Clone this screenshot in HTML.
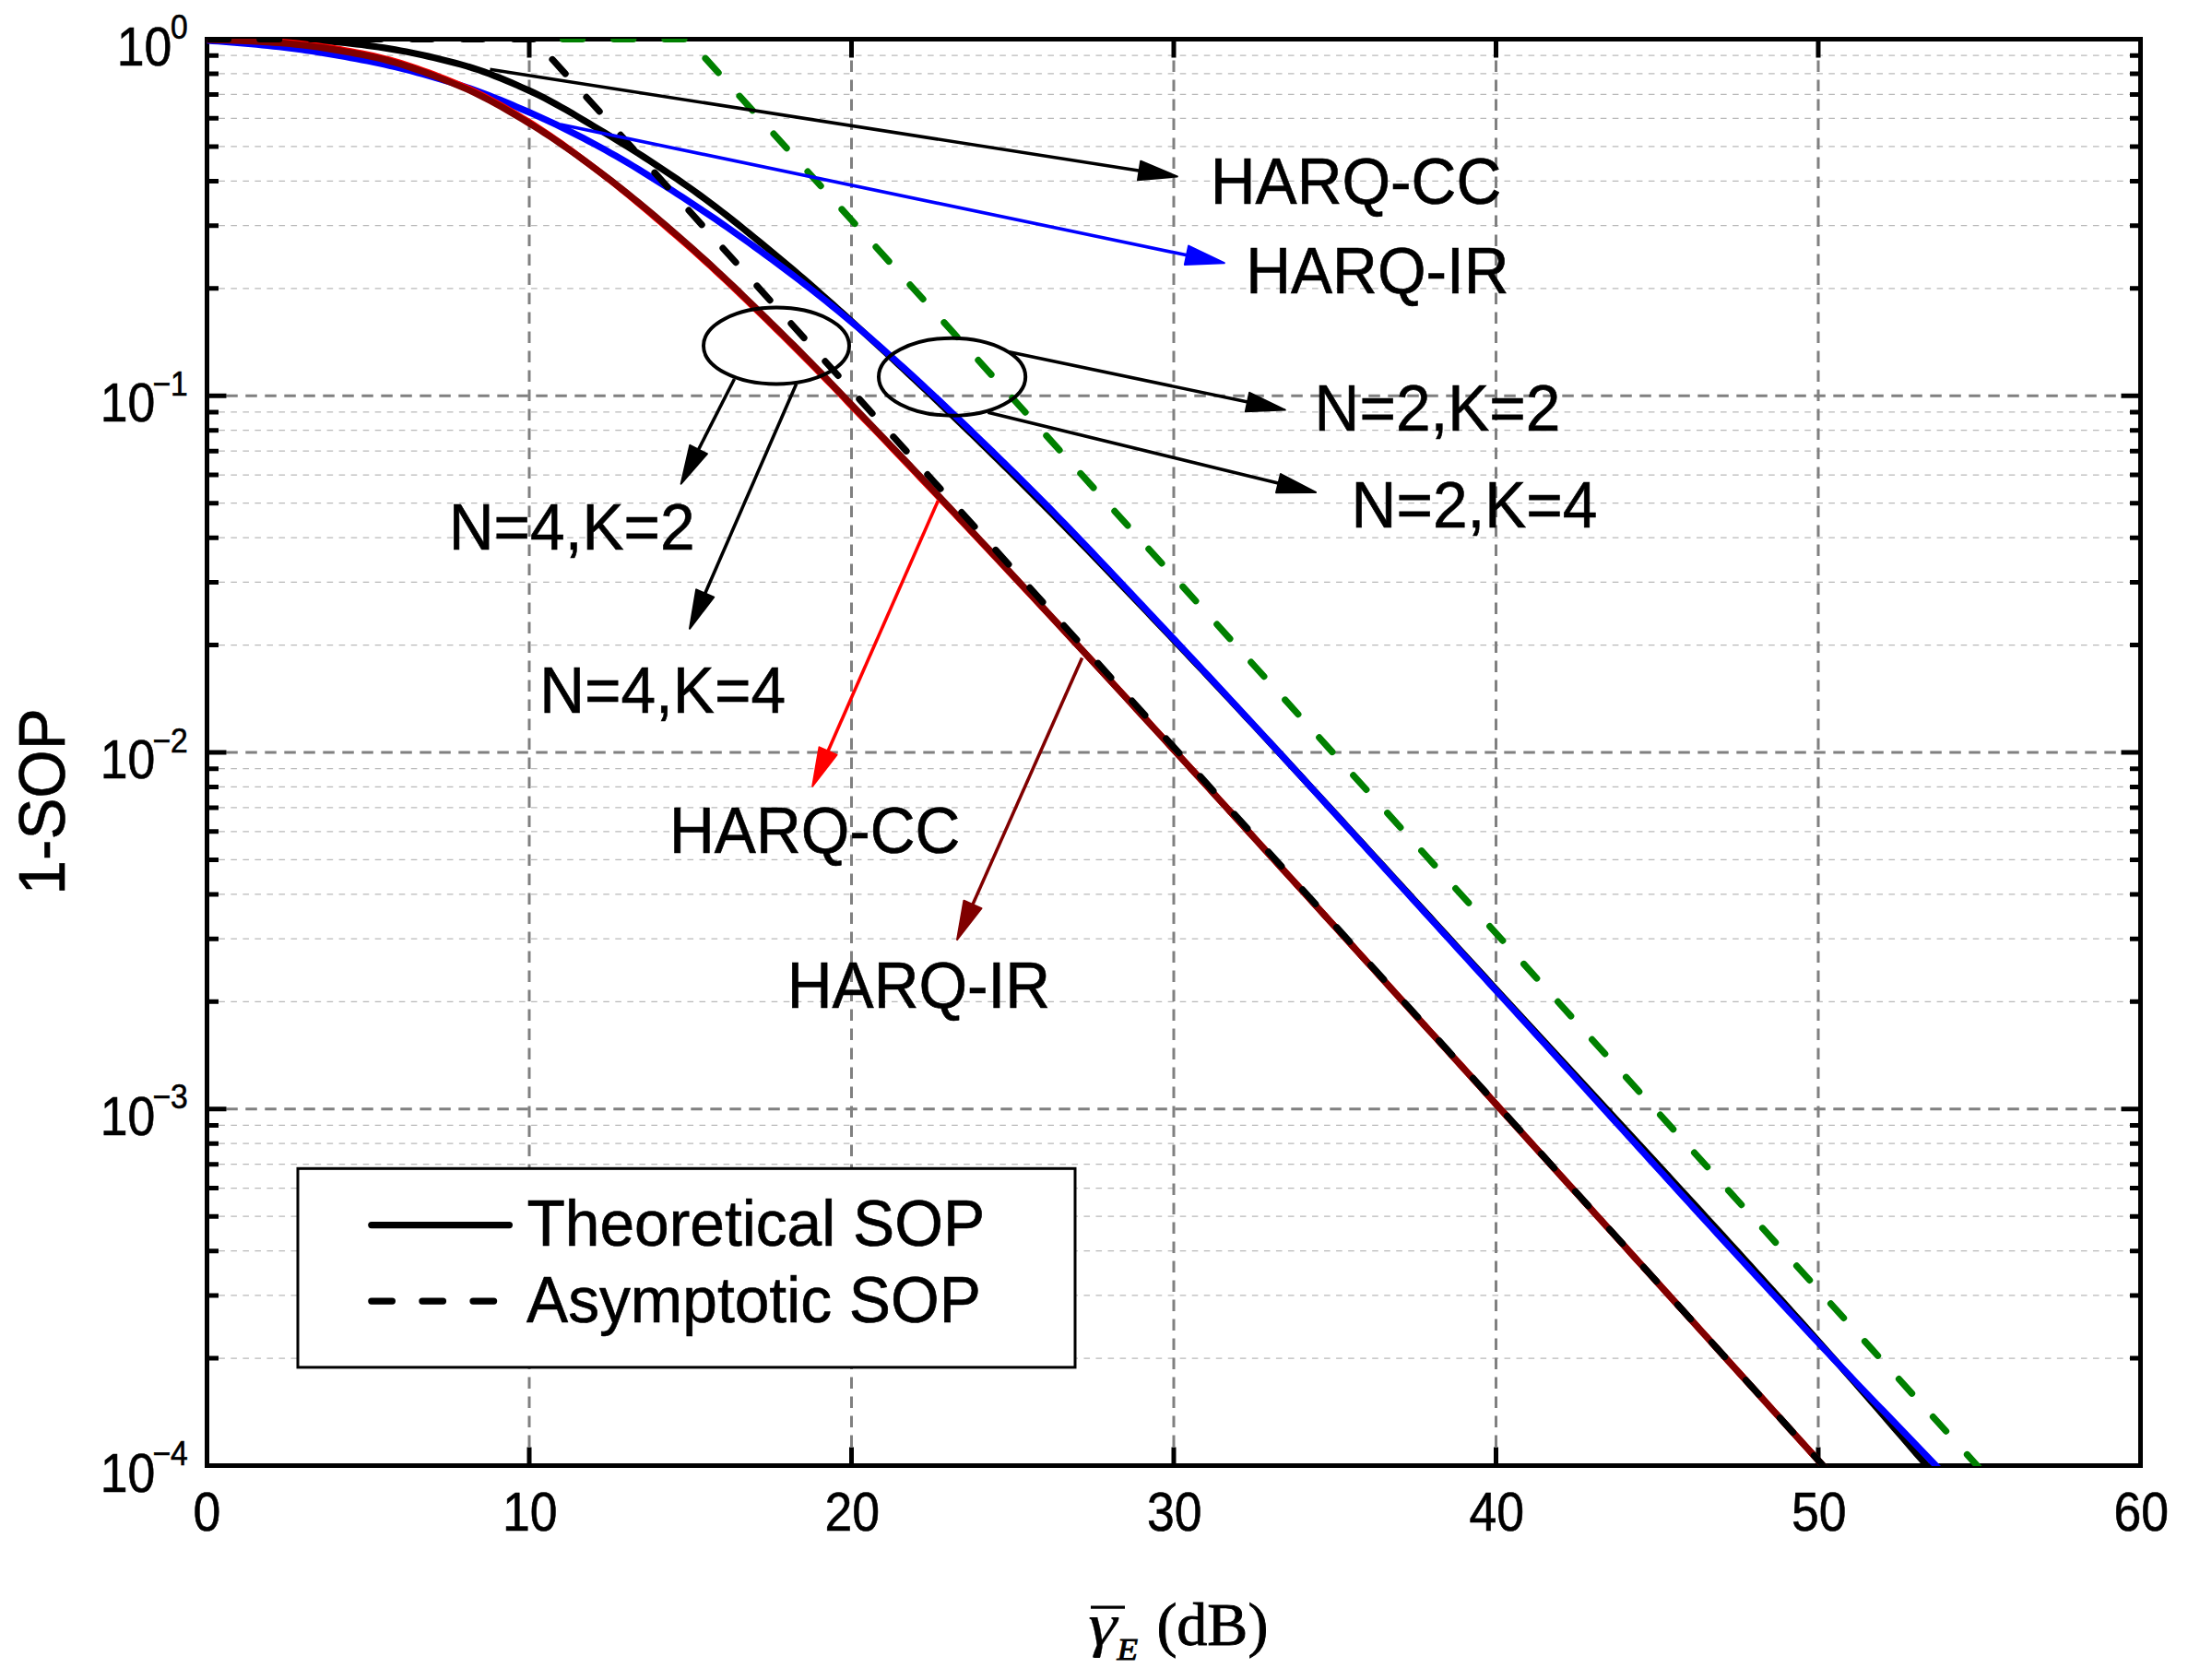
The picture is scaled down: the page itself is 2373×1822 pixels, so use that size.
<!DOCTYPE html>
<html lang="en"><head><meta charset="utf-8"><title>1-SOP versus average SNR</title>
<style>html,body{margin:0;padding:0;background:#fff}svg{display:block}text{font-family:"Liberation Sans",Arial,sans-serif;fill:#000}.ser{font-family:"Liberation Serif","Times New Roman",serif}</style></head><body>
<svg width="2373" height="1822" viewBox="0 0 2373 1822">
<rect width="2373" height="1822" fill="#fff"/>
<defs><clipPath id="pc"><rect x="224.5" y="42" width="2097" height="1547.9"/></clipPath></defs>
<g fill="none" stroke="#b9b9b9" stroke-width="1.25" stroke-dasharray="6.6 6.43">
<path d="M237.3,312.83 H2310"/>
<path d="M237.3,244.72 H2310"/>
<path d="M237.3,196.4 H2310"/>
<path d="M237.3,158.92 H2310"/>
<path d="M237.3,128.3 H2310"/>
<path d="M237.3,102.41 H2310"/>
<path d="M237.3,79.98 H2310"/>
<path d="M237.3,60.2 H2310"/>
<path d="M237.3,699.58 H2310"/>
<path d="M237.3,631.47 H2310"/>
<path d="M237.3,583.15 H2310"/>
<path d="M237.3,545.67 H2310"/>
<path d="M237.3,515.05 H2310"/>
<path d="M237.3,489.16 H2310"/>
<path d="M237.3,466.73 H2310"/>
<path d="M237.3,446.95 H2310"/>
<path d="M237.3,1086.33 H2310"/>
<path d="M237.3,1018.22 H2310"/>
<path d="M237.3,969.9 H2310"/>
<path d="M237.3,932.42 H2310"/>
<path d="M237.3,901.8 H2310"/>
<path d="M237.3,875.91 H2310"/>
<path d="M237.3,853.48 H2310"/>
<path d="M237.3,833.7 H2310"/>
<path d="M237.3,1473.08 H2310"/>
<path d="M237.3,1404.97 H2310"/>
<path d="M237.3,1356.65 H2310"/>
<path d="M237.3,1319.17 H2310"/>
<path d="M237.3,1288.55 H2310"/>
<path d="M237.3,1262.66 H2310"/>
<path d="M237.3,1240.23 H2310"/>
<path d="M237.3,1220.45 H2310"/>
</g>
<g fill="none" stroke="#808080" stroke-width="3" stroke-dasharray="12.5 8.5">
<path d="M574,65.4 V1569.5"/>
<path d="M923.5,65.4 V1569.5"/>
<path d="M1273,65.4 V1569.5"/>
<path d="M1622.5,65.4 V1569.5"/>
<path d="M1972,65.4 V1569.5"/>
<path d="M245.3,429.25 H2301.5"/>
<path d="M245.3,816 H2301.5"/>
<path d="M245.3,1202.75 H2301.5"/>
</g>
<g fill="none" stroke="#000" stroke-width="5">
<rect x="224.5" y="42.5" width="2097" height="1547"/>
<path d="M574,42.5 v20 M574,1589.5 v-20 M923.5,42.5 v20 M923.5,1589.5 v-20 M1273,42.5 v20 M1273,1589.5 v-20 M1622.5,42.5 v20 M1622.5,1589.5 v-20 M1972,42.5 v20 M1972,1589.5 v-20 M224.5,429.25 h21 M2321.5,429.25 h-21 M224.5,816 h21 M2321.5,816 h-21 M224.5,1202.75 h21 M2321.5,1202.75 h-21 M224.5,312.83 h12.5 M2321.5,312.83 h-11.5 M224.5,244.72 h12.5 M2321.5,244.72 h-11.5 M224.5,196.4 h12.5 M2321.5,196.4 h-11.5 M224.5,158.92 h12.5 M2321.5,158.92 h-11.5 M224.5,128.3 h12.5 M2321.5,128.3 h-11.5 M224.5,102.41 h12.5 M2321.5,102.41 h-11.5 M224.5,79.98 h12.5 M2321.5,79.98 h-11.5 M224.5,60.2 h12.5 M2321.5,60.2 h-11.5 M224.5,699.58 h12.5 M2321.5,699.58 h-11.5 M224.5,631.47 h12.5 M2321.5,631.47 h-11.5 M224.5,583.15 h12.5 M2321.5,583.15 h-11.5 M224.5,545.67 h12.5 M2321.5,545.67 h-11.5 M224.5,515.05 h12.5 M2321.5,515.05 h-11.5 M224.5,489.16 h12.5 M2321.5,489.16 h-11.5 M224.5,466.73 h12.5 M2321.5,466.73 h-11.5 M224.5,446.95 h12.5 M2321.5,446.95 h-11.5 M224.5,1086.33 h12.5 M2321.5,1086.33 h-11.5 M224.5,1018.22 h12.5 M2321.5,1018.22 h-11.5 M224.5,969.9 h12.5 M2321.5,969.9 h-11.5 M224.5,932.42 h12.5 M2321.5,932.42 h-11.5 M224.5,901.8 h12.5 M2321.5,901.8 h-11.5 M224.5,875.91 h12.5 M2321.5,875.91 h-11.5 M224.5,853.48 h12.5 M2321.5,853.48 h-11.5 M224.5,833.7 h12.5 M2321.5,833.7 h-11.5 M224.5,1473.08 h12.5 M2321.5,1473.08 h-11.5 M224.5,1404.97 h12.5 M2321.5,1404.97 h-11.5 M224.5,1356.65 h12.5 M2321.5,1356.65 h-11.5 M224.5,1319.17 h12.5 M2321.5,1319.17 h-11.5 M224.5,1288.55 h12.5 M2321.5,1288.55 h-11.5 M224.5,1262.66 h12.5 M2321.5,1262.66 h-11.5 M224.5,1240.23 h12.5 M2321.5,1240.23 h-11.5 M224.5,1220.45 h12.5 M2321.5,1220.45 h-11.5"/>
</g>
<g clip-path="url(#pc)" fill="none" stroke-width="7.2" stroke-linejoin="round">
<path stroke="#000" d="M224.5,42.5 L230.5,42.5 L236.5,42.51 L242.5,42.51 L248.5,42.52 L254.5,42.53 L260.5,42.55 L266.5,42.56 L272.5,42.58 L278.5,42.6 L284.5,42.63 L290.5,42.65 L296.5,42.68 L302.5,42.72 L308.5,42.81 L314.5,42.95 L320.5,43.13 L326.5,43.36 L332.5,43.62 L338.5,43.91 L344.5,44.21 L350.5,44.53 L356.5,44.9 L362.5,45.35 L368.5,45.88 L374.5,46.47 L380.5,47.12 L386.5,47.81 L392.5,48.55 L398.5,49.31 L404.5,50.1 L410.5,50.95 L416.5,51.86 L422.5,52.83 L428.5,53.86 L434.5,54.94 L440.5,56.07 L446.5,57.26 L452.5,58.5 L458.5,59.79 L464.5,61.13 L470.5,62.52 L476.5,63.95 L482.5,65.43 L488.5,66.96 L494.5,68.53 L500.5,70.14 L506.5,71.85 L512.5,73.7 L518.5,75.67 L524.5,77.77 L530.5,79.98 L536.5,82.28 L542.5,84.67 L548.5,87.15 L554.5,89.69 L560.5,92.29 L566.5,94.95 L572.5,97.64 L578.5,100.39 L584.5,103.29 L590.5,106.32 L596.5,109.46 L602.5,112.72 L608.5,116.06 L614.5,119.48 L620.5,122.96 L626.5,126.49 L632.5,130.05 L638.5,133.63 L644.5,137.22 L650.5,140.8 L656.5,144.39 L662.5,148 L668.5,151.65 L674.5,155.33 L680.5,159.04 L686.5,162.79 L692.5,166.57 L698.5,170.4 L704.5,174.26 L710.5,178.17 L716.5,182.13 L722.5,186.13 L728.5,190.17 L734.5,194.27 L740.5,198.42 L746.5,202.62 L752.5,206.88 L758.5,211.22 L764.5,215.63 L770.5,220.11 L776.5,224.66 L782.5,229.27 L788.5,233.93 L794.5,238.65 L800.5,243.42 L806.5,248.23 L812.5,253.08 L818.5,257.97 L824.5,262.88 L830.5,267.82 L836.5,272.78 L842.5,277.76 L848.5,282.75 L854.5,287.76 L860.5,292.83 L866.5,297.94 L872.5,303.1 L878.5,308.31 L884.5,313.55 L890.5,318.83 L896.5,324.15 L902.5,329.5 L908.5,334.87 L914.5,340.27 L920.5,345.69 L926.5,351.13 L932.5,356.59 L938.5,362.06 L944.5,367.55 L950.5,373.07 L956.5,378.6 L962.5,384.15 L968.5,389.71 L974.5,395.3 L980.5,400.9 L986.5,406.52 L992.5,412.16 L998.5,417.81 L1004.5,423.48 L1010.5,429.17 L1016.5,434.88 L1022.5,440.6 L1028.5,446.34 L1034.5,452.09 L1040.5,457.86 L1046.5,463.65 L1052.5,469.45 L1058.5,475.27 L1064.5,481.1 L1070.5,486.95 L1076.5,492.82 L1082.5,498.69 L1088.5,504.59 L1094.5,510.5 L1100.5,516.42 L1106.5,522.37 L1112.5,528.34 L1118.5,534.33 L1124.5,540.35 L1130.5,546.38 L1136.5,552.44 L1142.5,558.52 L1148.5,564.61 L1154.5,570.73 L1160.5,576.86 L1166.5,583.01 L1172.5,589.17 L1178.5,595.35 L1184.5,601.55 L1190.5,607.76 L1196.5,613.98 L1202.5,620.21 L1208.5,626.45 L1214.5,632.71 L1220.5,638.97 L1226.5,645.24 L1232.5,651.53 L1238.5,657.81 L1244.5,664.11 L1250.5,670.41 L1256.5,676.72 L1262.5,683.03 L1268.5,689.34 L1274.5,695.66 L1280.5,701.98 L1286.5,708.32 L1292.5,714.67 L1298.5,721.03 L1304.5,727.4 L1310.5,733.78 L1316.5,740.17 L1322.5,746.57 L1328.5,752.98 L1334.5,759.4 L1340.5,765.83 L1346.5,772.26 L1352.5,778.71 L1358.5,785.16 L1364.5,791.62 L1370.5,798.09 L1376.5,804.57 L1382.5,811.05 L1388.5,817.54 L1394.5,824.04 L1400.5,830.54 L1406.5,837.05 L1412.5,843.56 L1418.5,850.08 L1424.5,856.61 L1430.5,863.14 L1436.5,869.67 L1442.5,876.21 L1448.5,882.75 L1454.5,889.29 L1460.5,895.84 L1466.5,902.39 L1472.5,908.95 L1478.5,915.51 L1484.5,922.06 L1490.5,928.63 L1496.5,935.19 L1502.5,941.75 L1508.5,948.32 L1514.5,954.88 L1520.5,961.45 L1526.5,968.01 L1532.5,974.58 L1538.5,981.15 L1544.5,987.71 L1550.5,994.27 L1556.5,1000.84 L1562.5,1007.4 L1568.5,1013.96 L1574.5,1020.52 L1580.5,1027.07 L1586.5,1033.62 L1592.5,1040.17 L1598.5,1046.72 L1604.5,1053.26 L1610.5,1059.8 L1616.5,1066.33 L1622.5,1072.86 L1628.5,1079.39 L1634.5,1085.91 L1640.5,1092.43 L1646.5,1098.95 L1652.5,1105.46 L1658.5,1111.97 L1664.5,1118.48 L1670.5,1124.98 L1676.5,1131.49 L1682.5,1137.99 L1688.5,1144.49 L1694.5,1150.99 L1700.5,1157.49 L1706.5,1163.98 L1712.5,1170.48 L1718.5,1176.98 L1724.5,1183.47 L1730.5,1189.97 L1736.5,1196.47 L1742.5,1202.96 L1748.5,1209.46 L1754.5,1215.96 L1760.5,1222.46 L1766.5,1228.97 L1772.5,1235.47 L1778.5,1241.98 L1784.5,1248.49 L1790.5,1255 L1796.5,1261.52 L1802.5,1268.04 L1808.5,1274.56 L1814.5,1281.09 L1820.5,1287.62 L1826.5,1294.15 L1832.5,1300.69 L1838.5,1307.23 L1844.5,1313.78 L1850.5,1320.33 L1856.5,1326.89 L1862.5,1333.46 L1868.5,1340.03 L1874.5,1346.6 L1880.5,1353.19 L1886.5,1359.78 L1892.5,1366.37 L1898.5,1372.98 L1904.5,1379.59 L1910.5,1386.21 L1916.5,1392.84 L1922.5,1399.47 L1928.5,1406.11 L1934.5,1412.77 L1940.5,1419.43 L1946.5,1426.1 L1952.5,1432.78 L1958.5,1439.47 L1964.5,1446.16 L1970.5,1452.87 L1976.5,1459.6 L1982.5,1466.35 L1988.5,1473.13 L1994.5,1479.94 L2000.5,1486.77 L2006.5,1493.61 L2012.5,1500.46 L2018.5,1507.33 L2024.5,1514.2 L2030.5,1521.07 L2036.5,1527.97 L2042.5,1534.89 L2048.5,1541.83 L2054.5,1548.78 L2060.5,1555.74 L2066.5,1562.69 L2072.5,1569.64 L2078.5,1576.55 L2084.5,1583.44 L2090.5,1590.3 L2096.5,1597.12 L2102.5,1603.91 L2108.5,1610.69 L2114.5,1617.44 L2120.5,1624.18 L2126.5,1630.89"/>
<path stroke="#0000ff" d="M224.5,44 L230.5,44.35 L236.5,44.73 L242.5,45.15 L248.5,45.59 L254.5,46.07 L260.5,46.58 L266.5,47.11 L272.5,47.67 L278.5,48.25 L284.5,48.85 L290.5,49.48 L296.5,50.12 L302.5,50.78 L308.5,51.48 L314.5,52.21 L320.5,52.99 L326.5,53.8 L332.5,54.65 L338.5,55.54 L344.5,56.45 L350.5,57.41 L356.5,58.39 L362.5,59.4 L368.5,60.44 L374.5,61.51 L380.5,62.61 L386.5,63.73 L392.5,64.88 L398.5,66.05 L404.5,67.26 L410.5,68.51 L416.5,69.82 L422.5,71.18 L428.5,72.59 L434.5,74.05 L440.5,75.56 L446.5,77.11 L452.5,78.71 L458.5,80.35 L464.5,82.03 L470.5,83.75 L476.5,85.51 L482.5,87.31 L488.5,89.14 L494.5,91.01 L500.5,92.91 L506.5,94.88 L512.5,96.95 L518.5,99.1 L524.5,101.33 L530.5,103.63 L536.5,106 L542.5,108.43 L548.5,110.91 L554.5,113.42 L560.5,115.98 L566.5,118.57 L572.5,121.17 L578.5,123.8 L584.5,126.48 L590.5,129.22 L596.5,132.01 L602.5,134.85 L608.5,137.74 L614.5,140.69 L620.5,143.68 L626.5,146.72 L632.5,149.81 L638.5,152.95 L644.5,156.14 L650.5,159.37 L656.5,162.66 L662.5,166.02 L668.5,169.44 L674.5,172.92 L680.5,176.45 L686.5,180.03 L692.5,183.67 L698.5,187.35 L704.5,191.07 L710.5,194.83 L716.5,198.62 L722.5,202.45 L728.5,206.3 L734.5,210.18 L740.5,214.09 L746.5,218.01 L752.5,221.94 L758.5,225.92 L764.5,229.94 L770.5,233.99 L776.5,238.09 L782.5,242.22 L788.5,246.39 L794.5,250.6 L800.5,254.84 L806.5,259.11 L812.5,263.42 L818.5,267.76 L824.5,272.13 L830.5,276.52 L836.5,280.95 L842.5,285.4 L848.5,289.88 L854.5,294.38 L860.5,298.92 L866.5,303.49 L872.5,308.11 L878.5,312.76 L884.5,317.46 L890.5,322.2 L896.5,326.99 L902.5,331.83 L908.5,336.73 L914.5,341.68 L920.5,346.69 L926.5,351.76 L932.5,356.87 L938.5,362.03 L944.5,367.23 L950.5,372.47 L956.5,377.75 L962.5,383.07 L968.5,388.43 L974.5,393.82 L980.5,399.25 L986.5,404.71 L992.5,410.21 L998.5,415.73 L1004.5,421.29 L1010.5,426.88 L1016.5,432.49 L1022.5,438.13 L1028.5,443.8 L1034.5,449.49 L1040.5,455.2 L1046.5,460.94 L1052.5,466.69 L1058.5,472.47 L1064.5,478.26 L1070.5,484.08 L1076.5,489.9 L1082.5,495.75 L1088.5,501.6 L1094.5,507.47 L1100.5,513.35 L1106.5,519.27 L1112.5,525.23 L1118.5,531.22 L1124.5,537.25 L1130.5,543.31 L1136.5,549.4 L1142.5,555.52 L1148.5,561.67 L1154.5,567.85 L1160.5,574.06 L1166.5,580.28 L1172.5,586.53 L1178.5,592.8 L1184.5,599.09 L1190.5,605.39 L1196.5,611.72 L1202.5,618.05 L1208.5,624.4 L1214.5,630.76 L1220.5,637.12 L1226.5,643.5 L1232.5,649.88 L1238.5,656.26 L1244.5,662.65 L1250.5,669.04 L1256.5,675.43 L1262.5,681.81 L1268.5,688.19 L1274.5,694.57 L1280.5,700.95 L1286.5,707.34 L1292.5,713.75 L1298.5,720.16 L1304.5,726.59 L1310.5,733.02 L1316.5,739.47 L1322.5,745.92 L1328.5,752.39 L1334.5,758.86 L1340.5,765.34 L1346.5,771.83 L1352.5,778.33 L1358.5,784.83 L1364.5,791.35 L1370.5,797.87 L1376.5,804.39 L1382.5,810.93 L1388.5,817.47 L1394.5,824.01 L1400.5,830.57 L1406.5,837.12 L1412.5,843.68 L1418.5,850.25 L1424.5,856.82 L1430.5,863.4 L1436.5,869.98 L1442.5,876.56 L1448.5,883.15 L1454.5,889.74 L1460.5,896.33 L1466.5,902.92 L1472.5,909.52 L1478.5,916.12 L1484.5,922.72 L1490.5,929.32 L1496.5,935.92 L1502.5,942.52 L1508.5,949.13 L1514.5,955.73 L1520.5,962.33 L1526.5,968.93 L1532.5,975.54 L1538.5,982.14 L1544.5,988.74 L1550.5,995.33 L1556.5,1001.93 L1562.5,1008.52 L1568.5,1015.11 L1574.5,1021.7 L1580.5,1028.28 L1586.5,1034.87 L1592.5,1041.44 L1598.5,1048.02 L1604.5,1054.59 L1610.5,1061.15 L1616.5,1067.71 L1622.5,1074.26 L1628.5,1080.82 L1634.5,1087.38 L1640.5,1093.94 L1646.5,1100.51 L1652.5,1107.09 L1658.5,1113.67 L1664.5,1120.25 L1670.5,1126.84 L1676.5,1133.43 L1682.5,1140.03 L1688.5,1146.63 L1694.5,1153.23 L1700.5,1159.83 L1706.5,1166.44 L1712.5,1173.05 L1718.5,1179.65 L1724.5,1186.27 L1730.5,1192.88 L1736.5,1199.49 L1742.5,1206.1 L1748.5,1212.71 L1754.5,1219.33 L1760.5,1225.94 L1766.5,1232.55 L1772.5,1239.16 L1778.5,1245.77 L1784.5,1252.37 L1790.5,1258.98 L1796.5,1265.58 L1802.5,1272.18 L1808.5,1278.77 L1814.5,1285.37 L1820.5,1291.96 L1826.5,1298.54 L1832.5,1305.12 L1838.5,1311.7 L1844.5,1318.27 L1850.5,1324.83 L1856.5,1331.39 L1862.5,1337.95 L1868.5,1344.5 L1874.5,1351.04 L1880.5,1357.57 L1886.5,1364.1 L1892.5,1370.62 L1898.5,1377.13 L1904.5,1383.64 L1910.5,1390.14 L1916.5,1396.62 L1922.5,1403.1 L1928.5,1409.57 L1934.5,1416.03 L1940.5,1422.48 L1946.5,1428.92 L1952.5,1435.35 L1958.5,1441.77 L1964.5,1448.18 L1970.5,1454.58 L1976.5,1460.96 L1982.5,1467.32 L1988.5,1473.66 L1994.5,1479.99 L2000.5,1486.3 L2006.5,1492.59 L2012.5,1498.87 L2018.5,1505.14 L2024.5,1511.39 L2030.5,1517.64 L2036.5,1523.89 L2042.5,1530.12 L2048.5,1536.35 L2054.5,1542.59 L2060.5,1548.81 L2066.5,1555.05 L2072.5,1561.28 L2078.5,1567.51 L2084.5,1573.76 L2090.5,1580.01 L2096.5,1586.26 L2102.5,1592.53 L2108.5,1598.8 L2114.5,1605.06 L2120.5,1611.33 L2126.5,1617.6 L2132.5,1623.87 L2138.5,1630.13"/>
<path stroke="#ff0000" d="M224.5,42 L230.5,42.03 L236.5,42.11 L242.5,42.25 L248.5,42.42 L254.5,42.64 L260.5,42.9 L266.5,43.19 L272.5,43.5 L278.5,43.83 L284.5,44.19 L290.5,44.55 L296.5,44.93 L302.5,45.31 L308.5,45.76 L314.5,46.28 L320.5,46.87 L326.5,47.52 L332.5,48.24 L338.5,49.01 L344.5,49.84 L350.5,50.72 L356.5,51.65 L362.5,52.63 L368.5,53.65 L374.5,54.72 L380.5,55.81 L386.5,56.95 L392.5,58.11 L398.5,59.3 L404.5,60.54 L410.5,61.91 L416.5,63.39 L422.5,64.98 L428.5,66.67 L434.5,68.47 L440.5,70.36 L446.5,72.34 L452.5,74.39 L458.5,76.52 L464.5,78.72 L470.5,80.98 L476.5,83.3 L482.5,85.67 L488.5,88.08 L494.5,90.53 L500.5,93.01 L506.5,95.6 L512.5,98.35 L518.5,101.24 L524.5,104.26 L530.5,107.41 L536.5,110.66 L542.5,114 L548.5,117.42 L554.5,120.91 L560.5,124.46 L566.5,128.04 L572.5,131.65 L578.5,135.38 L584.5,139.23 L590.5,143.18 L596.5,147.23 L602.5,151.35 L608.5,155.56 L614.5,159.84 L620.5,164.18 L626.5,168.59 L632.5,173.05 L638.5,177.56 L644.5,182.1 L650.5,186.69 L656.5,191.32 L662.5,196.03 L668.5,200.79 L674.5,205.62 L680.5,210.5 L686.5,215.44 L692.5,220.44 L698.5,225.49 L704.5,230.58 L710.5,235.73 L716.5,240.87 L722.5,245.99 L728.5,251.16 L734.5,256.36 L740.5,261.59 L746.5,266.86 L752.5,272.16 L758.5,277.53 L764.5,282.96 L770.5,288.45 L776.5,293.99 L782.5,299.59 L788.5,305.24 L794.5,310.93 L800.5,316.66 L806.5,322.43 L812.5,328.23 L818.5,334.06 L824.5,339.91 L830.5,345.78 L836.5,351.67 L842.5,357.57 L848.5,363.47 L854.5,369.39 L860.5,375.36 L866.5,381.36 L872.5,387.41 L878.5,393.49 L884.5,399.6 L890.5,405.74 L896.5,411.92 L902.5,418.11 L908.5,424.33 L914.5,430.58 L920.5,436.93 L926.5,443.23 L932.5,449.46 L938.5,455.66 L944.5,461.86 L950.5,468.08 L956.5,474.34 L962.5,480.61 L968.5,486.9 L974.5,493.19 L980.5,499.49 L986.5,505.8 L992.5,512.12 L998.5,518.42 L1004.5,524.73 L1010.5,531.04 L1016.5,537.36 L1022.5,543.69 L1028.5,550.02 L1034.5,556.37 L1040.5,562.72 L1046.5,569.08 L1052.5,575.44 L1058.5,581.81 L1064.5,588.19 L1070.5,594.57 L1076.5,600.96 L1082.5,607.36 L1088.5,613.76 L1094.5,620.17 L1100.5,626.58 L1106.5,633 L1112.5,639.43 L1118.5,645.85 L1124.5,652.29 L1130.5,658.73 L1136.5,665.17 L1142.5,671.62 L1148.5,678.07 L1154.5,684.53 L1160.5,690.99 L1166.5,697.45 L1172.5,703.92 L1178.5,710.39 L1184.5,716.87 L1190.5,723.35 L1196.5,729.83 L1202.5,736.32 L1208.5,742.84 L1214.5,749.37 L1220.5,755.9 L1226.5,762.43 L1232.5,768.97 L1238.5,775.51 L1244.5,782.05 L1250.5,788.59 L1256.5,795.14 L1262.5,801.69 L1268.5,808.24 L1274.5,814.8 L1280.5,821.36 L1286.5,827.92 L1292.5,834.48 L1298.5,841.04 L1304.5,847.61 L1310.5,854.18 L1316.5,860.75 L1322.5,867.32 L1328.5,873.89 L1334.5,880.47 L1340.5,887.05 L1346.5,893.63 L1352.5,900.21 L1358.5,906.79 L1364.5,913.37 L1370.5,919.96 L1376.5,926.55 L1382.5,933.14 L1388.5,939.73 L1394.5,946.32 L1400.5,952.91 L1406.5,959.5 L1412.5,966.1 L1418.5,972.7 L1424.5,979.3 L1430.5,985.89 L1436.5,992.49 L1442.5,999.1 L1448.5,1005.7 L1454.5,1012.3 L1460.5,1018.91 L1466.5,1025.51 L1472.5,1032.12 L1478.5,1038.72 L1484.5,1045.33 L1490.5,1051.94 L1496.5,1058.55 L1502.5,1065.16 L1508.5,1071.77 L1514.5,1078.39 L1520.5,1085 L1526.5,1091.61 L1532.5,1098.23 L1538.5,1104.84 L1544.5,1111.46 L1550.5,1118.07 L1556.5,1124.69 L1562.5,1131.31 L1568.5,1137.93 L1574.5,1144.55 L1580.5,1151.17 L1586.5,1157.79 L1592.5,1164.41 L1598.5,1171.03 L1604.5,1177.65 L1610.5,1184.27 L1616.5,1190.9 L1622.5,1197.52 L1628.5,1204.14 L1634.5,1210.77 L1640.5,1217.39 L1646.5,1224.02 L1652.5,1230.64 L1658.5,1237.27 L1664.5,1243.89 L1670.5,1250.52 L1676.5,1257.15 L1682.5,1263.77 L1688.5,1270.4 L1694.5,1277.03 L1700.5,1283.66 L1706.5,1290.28 L1712.5,1296.91 L1718.5,1303.54 L1724.5,1310.17 L1730.5,1316.8 L1736.5,1323.43 L1742.5,1330.06 L1748.5,1336.69 L1754.5,1343.32 L1760.5,1349.95 L1766.5,1356.59 L1772.5,1363.22 L1778.5,1369.85 L1784.5,1376.48 L1790.5,1383.11 L1796.5,1389.74 L1802.5,1396.38 L1808.5,1403.01 L1814.5,1409.64 L1820.5,1416.28 L1826.5,1422.91 L1832.5,1429.54 L1838.5,1436.18 L1844.5,1442.81 L1850.5,1449.44 L1856.5,1456.08 L1862.5,1462.71 L1868.5,1469.35 L1874.5,1475.98 L1880.5,1482.62 L1886.5,1489.25 L1892.5,1495.88 L1898.5,1502.52 L1904.5,1509.16 L1910.5,1515.79 L1916.5,1522.43 L1922.5,1529.06 L1928.5,1535.7 L1934.5,1542.33 L1940.5,1548.97 L1946.5,1555.6 L1952.5,1562.24 L1958.5,1568.88 L1964.5,1575.51 L1970.5,1582.15 L1976.5,1588.79 L1982.5,1595.42 L1988.5,1602.06 L1994.5,1608.7"/>
<path stroke="#800000" d="M224.5,43.2 L230.5,43.23 L236.5,43.31 L242.5,43.45 L248.5,43.62 L254.5,43.84 L260.5,44.1 L266.5,44.39 L272.5,44.7 L278.5,45.03 L284.5,45.39 L290.5,45.75 L296.5,46.13 L302.5,46.51 L308.5,46.96 L314.5,47.48 L320.5,48.07 L326.5,48.72 L332.5,49.44 L338.5,50.21 L344.5,51.04 L350.5,51.92 L356.5,52.85 L362.5,53.83 L368.5,54.85 L374.5,55.92 L380.5,57.01 L386.5,58.15 L392.5,59.31 L398.5,60.5 L404.5,61.74 L410.5,63.11 L416.5,64.59 L422.5,66.18 L428.5,67.87 L434.5,69.67 L440.5,71.56 L446.5,73.54 L452.5,75.59 L458.5,77.72 L464.5,79.92 L470.5,82.18 L476.5,84.5 L482.5,86.87 L488.5,89.28 L494.5,91.73 L500.5,94.21 L506.5,96.8 L512.5,99.55 L518.5,102.44 L524.5,105.46 L530.5,108.61 L536.5,111.86 L542.5,115.2 L548.5,118.62 L554.5,122.11 L560.5,125.66 L566.5,129.24 L572.5,132.85 L578.5,136.5 L584.5,140.25 L590.5,144.1 L596.5,148.04 L602.5,152.06 L608.5,156.17 L614.5,160.34 L620.5,164.59 L626.5,168.89 L632.5,173.24 L638.5,177.65 L644.5,182.09 L650.5,186.57 L656.5,191.11 L662.5,195.71 L668.5,200.37 L674.5,205.09 L680.5,209.87 L686.5,214.71 L692.5,219.61 L698.5,224.55 L704.5,229.54 L710.5,234.58 L716.5,239.67 L722.5,244.79 L728.5,249.96 L734.5,255.16 L740.5,260.39 L746.5,265.66 L752.5,270.96 L758.5,276.33 L764.5,281.76 L770.5,287.25 L776.5,292.79 L782.5,298.39 L788.5,304.04 L794.5,309.73 L800.5,315.46 L806.5,321.23 L812.5,327.03 L818.5,332.86 L824.5,338.71 L830.5,344.58 L836.5,350.47 L842.5,356.37 L848.5,362.27 L854.5,368.19 L860.5,374.16 L866.5,380.16 L872.5,386.21 L878.5,392.29 L884.5,398.4 L890.5,404.54 L896.5,410.72 L902.5,416.91 L908.5,423.13 L914.5,429.38 L920.5,435.73 L926.5,442.03 L932.5,448.26 L938.5,454.46 L944.5,460.66 L950.5,466.88 L956.5,473.14 L962.5,479.41 L968.5,485.7 L974.5,491.99 L980.5,498.29 L986.5,504.6 L992.5,510.92 L998.5,517.25 L1004.5,523.59 L1010.5,529.94 L1016.5,536.29 L1022.5,542.65 L1028.5,549.02 L1034.5,555.4 L1040.5,561.79 L1046.5,568.18 L1052.5,574.58 L1058.5,580.98 L1064.5,587.4 L1070.5,593.81 L1076.5,600.24 L1082.5,606.67 L1088.5,613.11 L1094.5,619.55 L1100.5,626 L1106.5,632.45 L1112.5,638.91 L1118.5,645.37 L1124.5,651.84 L1130.5,658.31 L1136.5,664.79 L1142.5,671.27 L1148.5,677.76 L1154.5,684.25 L1160.5,690.74 L1166.5,697.24 L1172.5,703.75 L1178.5,710.25 L1184.5,716.76 L1190.5,723.28 L1196.5,729.79 L1202.5,736.31 L1208.5,742.84 L1214.5,749.37 L1220.5,755.9 L1226.5,762.43 L1232.5,768.97 L1238.5,775.51 L1244.5,782.05 L1250.5,788.59 L1256.5,795.14 L1262.5,801.69 L1268.5,808.24 L1274.5,814.8 L1280.5,821.36 L1286.5,827.92 L1292.5,834.48 L1298.5,841.04 L1304.5,847.61 L1310.5,854.18 L1316.5,860.75 L1322.5,867.32 L1328.5,873.89 L1334.5,880.47 L1340.5,887.05 L1346.5,893.63 L1352.5,900.21 L1358.5,906.79 L1364.5,913.37 L1370.5,919.96 L1376.5,926.55 L1382.5,933.14 L1388.5,939.73 L1394.5,946.32 L1400.5,952.91 L1406.5,959.5 L1412.5,966.1 L1418.5,972.7 L1424.5,979.3 L1430.5,985.89 L1436.5,992.49 L1442.5,999.1 L1448.5,1005.7 L1454.5,1012.3 L1460.5,1018.91 L1466.5,1025.51 L1472.5,1032.12 L1478.5,1038.72 L1484.5,1045.33 L1490.5,1051.94 L1496.5,1058.55 L1502.5,1065.16 L1508.5,1071.77 L1514.5,1078.39 L1520.5,1085 L1526.5,1091.61 L1532.5,1098.23 L1538.5,1104.84 L1544.5,1111.46 L1550.5,1118.07 L1556.5,1124.69 L1562.5,1131.31 L1568.5,1137.93 L1574.5,1144.55 L1580.5,1151.17 L1586.5,1157.79 L1592.5,1164.41 L1598.5,1171.03 L1604.5,1177.65 L1610.5,1184.27 L1616.5,1190.9 L1622.5,1197.52 L1628.5,1204.14 L1634.5,1210.77 L1640.5,1217.39 L1646.5,1224.02 L1652.5,1230.64 L1658.5,1237.27 L1664.5,1243.89 L1670.5,1250.52 L1676.5,1257.15 L1682.5,1263.77 L1688.5,1270.4 L1694.5,1277.03 L1700.5,1283.66 L1706.5,1290.28 L1712.5,1296.91 L1718.5,1303.54 L1724.5,1310.17 L1730.5,1316.8 L1736.5,1323.43 L1742.5,1330.06 L1748.5,1336.69 L1754.5,1343.32 L1760.5,1349.95 L1766.5,1356.59 L1772.5,1363.22 L1778.5,1369.85 L1784.5,1376.48 L1790.5,1383.11 L1796.5,1389.74 L1802.5,1396.38 L1808.5,1403.01 L1814.5,1409.64 L1820.5,1416.28 L1826.5,1422.91 L1832.5,1429.54 L1838.5,1436.18 L1844.5,1442.81 L1850.5,1449.44 L1856.5,1456.08 L1862.5,1462.71 L1868.5,1469.35 L1874.5,1475.98 L1880.5,1482.62 L1886.5,1489.25 L1892.5,1495.88 L1898.5,1502.52 L1904.5,1509.16 L1910.5,1515.79 L1916.5,1522.43 L1922.5,1529.06 L1928.5,1535.7 L1934.5,1542.33 L1940.5,1548.97 L1946.5,1555.6 L1952.5,1562.24 L1958.5,1568.88 L1964.5,1575.51 L1970.5,1582.15 L1976.5,1588.79 L1982.5,1595.42 L1988.5,1602.06 L1994.5,1608.7"/>
<path stroke="#008000" stroke-linecap="round" stroke-dasharray="21 34.16" stroke-dashoffset="20.54" d="M576,42.5 H746.3"/><path stroke="#008000" stroke-linecap="round" stroke-dasharray="21 34.16" stroke-dashoffset="27.16" d="M746.3,42.5 L2321.5,1785.58"/>
<path stroke="#000" stroke-linecap="round" stroke-dasharray="21 34.16" stroke-dashoffset="53.06" d="M224.5,42.5 H579.24"/><path stroke="#000" stroke-linecap="round" stroke-dasharray="21 34.16" stroke-dashoffset="25.58" d="M579.24,42.5 L2100,1725.34"/>
</g>
<g>
<path d="M531.4,75.2 L1239.56,185.67" stroke="#000" stroke-width="3.6" fill="none"/><path d="M1276.81,191.48 L1234,195.33 L1237.21,174.77 Z" fill="#000" stroke="#000" stroke-width="2" stroke-linejoin="round"/>
<path d="M608,135 L1290.91,277.53" stroke="#0000ff" stroke-width="3.6" fill="none"/><path d="M1327.82,285.24 L1284.87,286.9 L1289.12,266.54 Z" fill="#0000ff" stroke="#0000ff" stroke-width="2" stroke-linejoin="round"/>
<path d="M1094.7,381.7 L1356.92,436.79" stroke="#000" stroke-width="3.6" fill="none"/><path d="M1393.82,444.54 L1350.87,446.14 L1355.15,425.78 Z" fill="#000" stroke="#000" stroke-width="2" stroke-linejoin="round"/>
<path d="M1071.4,447.2 L1390.4,525.07" stroke="#000" stroke-width="3.6" fill="none"/><path d="M1427.02,534.01 L1384.05,534.22 L1388.98,514.02 Z" fill="#000" stroke="#000" stroke-width="2" stroke-linejoin="round"/>
<path d="M796.5,411 L755.76,491.09" stroke="#000" stroke-width="3.6" fill="none"/><path d="M738.66,524.69 L748.3,482.8 L766.84,492.24 Z" fill="#000" stroke="#000" stroke-width="2" stroke-linejoin="round"/>
<path d="M863.6,416.5 L763.08,647.2" stroke="#000" stroke-width="3.6" fill="none"/><path d="M748.02,681.77 L755.14,639.38 L774.21,647.69 Z" fill="#000" stroke="#000" stroke-width="2" stroke-linejoin="round"/>
<path d="M1017.4,543 L896.4,818.16" stroke="#ff0000" stroke-width="3.6" fill="none"/><path d="M881.22,852.67 L888.49,810.31 L907.53,818.68 Z" fill="#ff0000" stroke="#ff0000" stroke-width="2" stroke-linejoin="round"/>
<path d="M1173.6,713.4 L1053.31,984.61" stroke="#800000" stroke-width="3.6" fill="none"/><path d="M1038.02,1019.07 L1045.42,976.73 L1064.44,985.17 Z" fill="#800000" stroke="#800000" stroke-width="2" stroke-linejoin="round"/>
<ellipse cx="842" cy="375" rx="79" ry="41.5" fill="none" stroke="#000" stroke-width="4"/>
<ellipse cx="1032.6" cy="408.7" rx="79.6" ry="42" fill="none" stroke="#000" stroke-width="4"/>
</g>
<text transform="translate(1312.8,220.8) scale(1,1.0300)" font-size="67.6" stroke="#000" stroke-width="0.6">HARQ-CC</text>
<text transform="translate(1351.2,318) scale(1,1.0300)" font-size="67.6" stroke="#000" stroke-width="0.6">HARQ-IR</text>
<text transform="translate(1425.6,467) scale(1,1.0300)" font-size="67.6" stroke="#000" stroke-width="0.6">N=2,K=2</text>
<text transform="translate(1465.6,572.2) scale(1,1.0300)" font-size="67.6" stroke="#000" stroke-width="0.6">N=2,K=4</text>
<text transform="translate(486.8,596) scale(1,1.0300)" font-size="67.6" stroke="#000" stroke-width="0.6">N=4,K=2</text>
<text transform="translate(585.2,772.8) scale(1,1.0300)" font-size="67.6" stroke="#000" stroke-width="0.6">N=4,K=4</text>
<text transform="translate(726,924.7) scale(1,1.0300)" font-size="67.6" stroke="#000" stroke-width="0.6">HARQ-CC</text>
<text transform="translate(853.8,1092.7) scale(1,1.0300)" font-size="67.6" stroke="#000" stroke-width="0.6">HARQ-IR</text>
<rect x="323" y="1267.3" width="843" height="215.6" fill="#fff" stroke="#000" stroke-width="3"/>
<path d="M402.8,1328.6 H552.4" stroke="#000" stroke-width="7.2" stroke-linecap="round" fill="none"/>
<path d="M402.8,1411.1 H540" stroke="#000" stroke-width="7.2" stroke-linecap="round" stroke-dasharray="22.6 32.5" fill="none"/>
<text transform="translate(571.4,1350.8) scale(1,1.0300)" font-size="67.7" stroke="#000" stroke-width="0.6">Theoretical SOP</text>
<text transform="translate(571,1433.9) scale(1,1.0300)" font-size="67.7" stroke="#000" stroke-width="0.6">Asymptotic SOP</text>
<text transform="translate(224.5,1660.4) scale(0.94,1.0400)" font-size="57" text-anchor="middle" stroke="#000" stroke-width="0.6">0</text>
<text transform="translate(574.8,1660.4) scale(0.94,1.0400)" font-size="57" text-anchor="middle" stroke="#000" stroke-width="0.6">10</text>
<text transform="translate(924.3,1660.4) scale(0.94,1.0400)" font-size="57" text-anchor="middle" stroke="#000" stroke-width="0.6">20</text>
<text transform="translate(1273.8,1660.4) scale(0.94,1.0400)" font-size="57" text-anchor="middle" stroke="#000" stroke-width="0.6">30</text>
<text transform="translate(1623.3,1660.4) scale(0.94,1.0400)" font-size="57" text-anchor="middle" stroke="#000" stroke-width="0.6">40</text>
<text transform="translate(1972.8,1660.4) scale(0.94,1.0400)" font-size="57" text-anchor="middle" stroke="#000" stroke-width="0.6">50</text>
<text transform="translate(2322.3,1660.4) scale(0.94,1.0400)" font-size="57" text-anchor="middle" stroke="#000" stroke-width="0.6">60</text>
<text transform="translate(186.3,70.7) scale(0.94,1.0400)" font-size="57" text-anchor="end" stroke="#000" stroke-width="0.6">10</text>
<text transform="translate(203.8,42.2) scale(0.98,1.0700)" font-size="34.3" text-anchor="end" stroke="#000" stroke-width="0.6">0</text>
<text transform="translate(168.3,457.45) scale(0.94,1.0400)" font-size="57" text-anchor="end" stroke="#000" stroke-width="0.6">10</text>
<text transform="translate(203.8,428.95) scale(0.98,1.0700)" font-size="34.3" text-anchor="end" stroke="#000" stroke-width="0.6">−1</text>
<text transform="translate(168.3,844.2) scale(0.94,1.0400)" font-size="57" text-anchor="end" stroke="#000" stroke-width="0.6">10</text>
<text transform="translate(203.8,815.7) scale(0.98,1.0700)" font-size="34.3" text-anchor="end" stroke="#000" stroke-width="0.6">−2</text>
<text transform="translate(168.3,1230.95) scale(0.94,1.0400)" font-size="57" text-anchor="end" stroke="#000" stroke-width="0.6">10</text>
<text transform="translate(203.8,1202.45) scale(0.98,1.0700)" font-size="34.3" text-anchor="end" stroke="#000" stroke-width="0.6">−3</text>
<text transform="translate(168.3,1617.7) scale(0.94,1.0400)" font-size="57" text-anchor="end" stroke="#000" stroke-width="0.6">10</text>
<text transform="translate(203.8,1589.2) scale(0.98,1.0700)" font-size="34.3" text-anchor="end" stroke="#000" stroke-width="0.6">−4</text>
<text stroke="#000" stroke-width="0.6" font-size="68.4" transform="translate(70.4,970.5) rotate(-90) scale(0.985,1.0300)">1-SOP</text>
<g class="ser" stroke="#000" stroke-width="0.9">
<text class="ser" transform="translate(1180.2,1783.7) scale(1.2,1)" stroke-width="0.25" font-size="66" font-style="italic">γ</text>
<path d="M1183,1743.2 H1220" stroke="#000" stroke-width="3.2" fill="none"/>
<text class="ser" transform="translate(1211.6,1799.6) scale(1.12,1)" font-size="33" font-style="italic">E</text>
<text class="ser" x="1254.4" y="1783.7" font-size="66">(dB)</text>
</g>
</svg></body></html>
